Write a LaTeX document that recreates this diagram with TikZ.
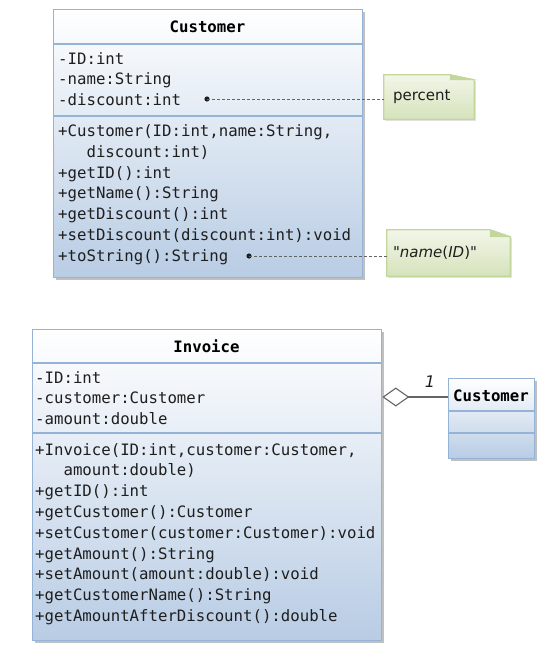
\documentclass[tikz,border=0pt]{standalone}
\usepackage{fontspec}
\setmainfont{DejaVu Sans}
\setmonofont{DejaVu Sans Mono}
\usetikzlibrary{arrows.meta,shadows,backgrounds}

\definecolor{classline}{RGB}{149,179,215}
\definecolor{classfill}{RGB}{184,204,228}
\definecolor{notetop}{RGB}{242,246,232}
\definecolor{notefill}{RGB}{214,227,188}
\definecolor{noteline}{RGB}{195,214,155}
\definecolor{linkgray}{RGB}{100,100,100}
\definecolor{textdark}{RGB}{30,30,30}

\begin{document}
\begin{tikzpicture}[x=1pt, y=-1pt,
        classbox/.style={rectangle, draw=classline, line width=1.3pt, top color=white, bottom color=classfill,
            anchor=north west, inner sep=0pt, drop shadow={shadow xshift=2pt, shadow yshift=-2pt, fill=black!45, opacity=0.55}},
        sep/.style={draw=classline, line width=1.3pt},
        classname/.style={font=\fontsize{15.7}{20.8}\selectfont\ttfamily\bfseries, anchor=base, inner sep=0pt},
        % base anchor sits on the last line of a member list
        members/.style={font=\fontsize{15.7}{20.8}\selectfont\ttfamily, text=textdark, align=left, anchor=base west, inner sep=0pt},
        note/.style={font=\fontsize{15}{18}\selectfont, text=textdark, align=left, inner ysep=0pt},
        notebody/.style={draw=noteline, line width=1.2pt, top color=notetop, bottom color=notefill,
            drop shadow={shadow xshift=1.5pt, shadow yshift=-1.5pt, fill=black!40, opacity=0.45}},
        notefold/.style={fill=noteline, draw=noteline, line width=0.8pt},
        notelink/.style={draw=linkgray, dash pattern=on 3pt off 2pt, line width=1pt},
        aggregation/.style={draw=linkgray, line width=1.6pt, -{Diamond[open, length=27pt, width=19pt, line width=1.1pt]}}
    ]
    \useasboundingbox (0,0) rectangle (551,656);

    % Customer class
    \node[classbox, minimum width=309pt, minimum height=268pt] (customer) at (53,9) {};
    \draw[sep] (customer.west |- 0,44) -- (customer.east |- 0,44);
    \draw[sep] (customer.west |- 0,116) -- (customer.east |- 0,116);
    \node[classname] (customer-title) at (207.5,32.5) {Customer};
    \node[members] (customer-attrs) at (58,105.6) {-ID:int\\-name:String\\-discount:int};
    \node[members] (customer-ops) at (58,261.3) {+Customer(ID:int,name:String,\\\phantom{+Cu}discount:int)\\+getID():int\\+getName():String\\+getDiscount():int\\+setDiscount(discount:int):void\\+toString():String};

    % Notes
    \node[note, minimum width=90pt, minimum height=44pt, text width=72pt, inner xsep=9pt] (percent) at (429,97) {percent};
    \node[note, minimum width=123pt, minimum height=46pt, text width=111pt, inner xsep=6pt] (format) at (448.5,253) {\textquotedbl\textit{name}(\textit{ID})\textquotedbl};
    \begin{scope}[on background layer]
        \draw[notebody] (percent.south west) -- (percent.north west) -- ([xshift=-24pt]percent.north east)
            -- ([yshift=-5pt]percent.north east) -- (percent.south east) -- cycle;
        \draw[notefold] ([xshift=-24pt]percent.north east) -- ([xshift=-24pt,yshift=-5pt]percent.north east)
            -- ([yshift=-5pt]percent.north east) -- cycle;
        \draw[notebody] (format.south west) -- (format.north west) -- ([xshift=-20pt]format.north east)
            -- ([yshift=-7pt]format.north east) -- (format.south east) -- cycle;
        \draw[notefold] ([xshift=-20pt]format.north east) -- ([xshift=-20pt,yshift=-7pt]format.north east)
            -- ([yshift=-7pt]format.north east) -- cycle;
    \end{scope}

    % Links to notes
    \coordinate (discount-dot) at (207,99);
    \coordinate (tostring-dot) at (249,256);
    \fill[textdark] (discount-dot) circle (2.6);
    \fill[textdark] (tostring-dot) circle (2.6);
    \draw[notelink] (discount-dot) -- (discount-dot -| percent.west);
    \draw[notelink] (tostring-dot) -- (tostring-dot -| format.west);

    % Invoice class
    \node[classbox, minimum width=349pt, minimum height=311pt] (invoice) at (32,329) {};
    \draw[sep] (invoice.west |- 0,363) -- (invoice.east |- 0,363);
    \draw[sep] (invoice.west |- 0,433) -- (invoice.east |- 0,433);
    \node[classname] (invoice-title) at (206.5,352.5) {Invoice};
    \node[members] (invoice-attrs) at (35,424.6) {-ID:int\\-customer:Customer\\-amount:double};
    \node[members] (invoice-ops) at (35,621.4) {+Invoice(ID:int,customer:Customer,\\\phantom{+In}amount:double)\\+getID():int\\+getCustomer():Customer\\+setCustomer(customer:Customer):void\\+getAmount():String\\+setAmount(amount:double):void\\+getCustomerName():String\\+getAmountAfterDiscount():double};

    % Customer reference
    \node[classbox, minimum width=86pt, minimum height=80pt] (custref) at (448,378) {};
    \draw[sep] (custref.west |- 0,411) -- (custref.east |- 0,411);
    \draw[sep] (custref.west |- 0,433) -- (custref.east |- 0,433);
    \node[classname] (custref-title) at (491,401.5) {Customer};

    % Aggregation
    \draw[aggregation] (custref.west |- 0,397) -- (invoice.east |- 0,397);
    \node[font=\fontsize{16}{18}\selectfont\itshape, text=textdark] (mult-one) at (430,382) {1};
\end{tikzpicture}
\end{document}
